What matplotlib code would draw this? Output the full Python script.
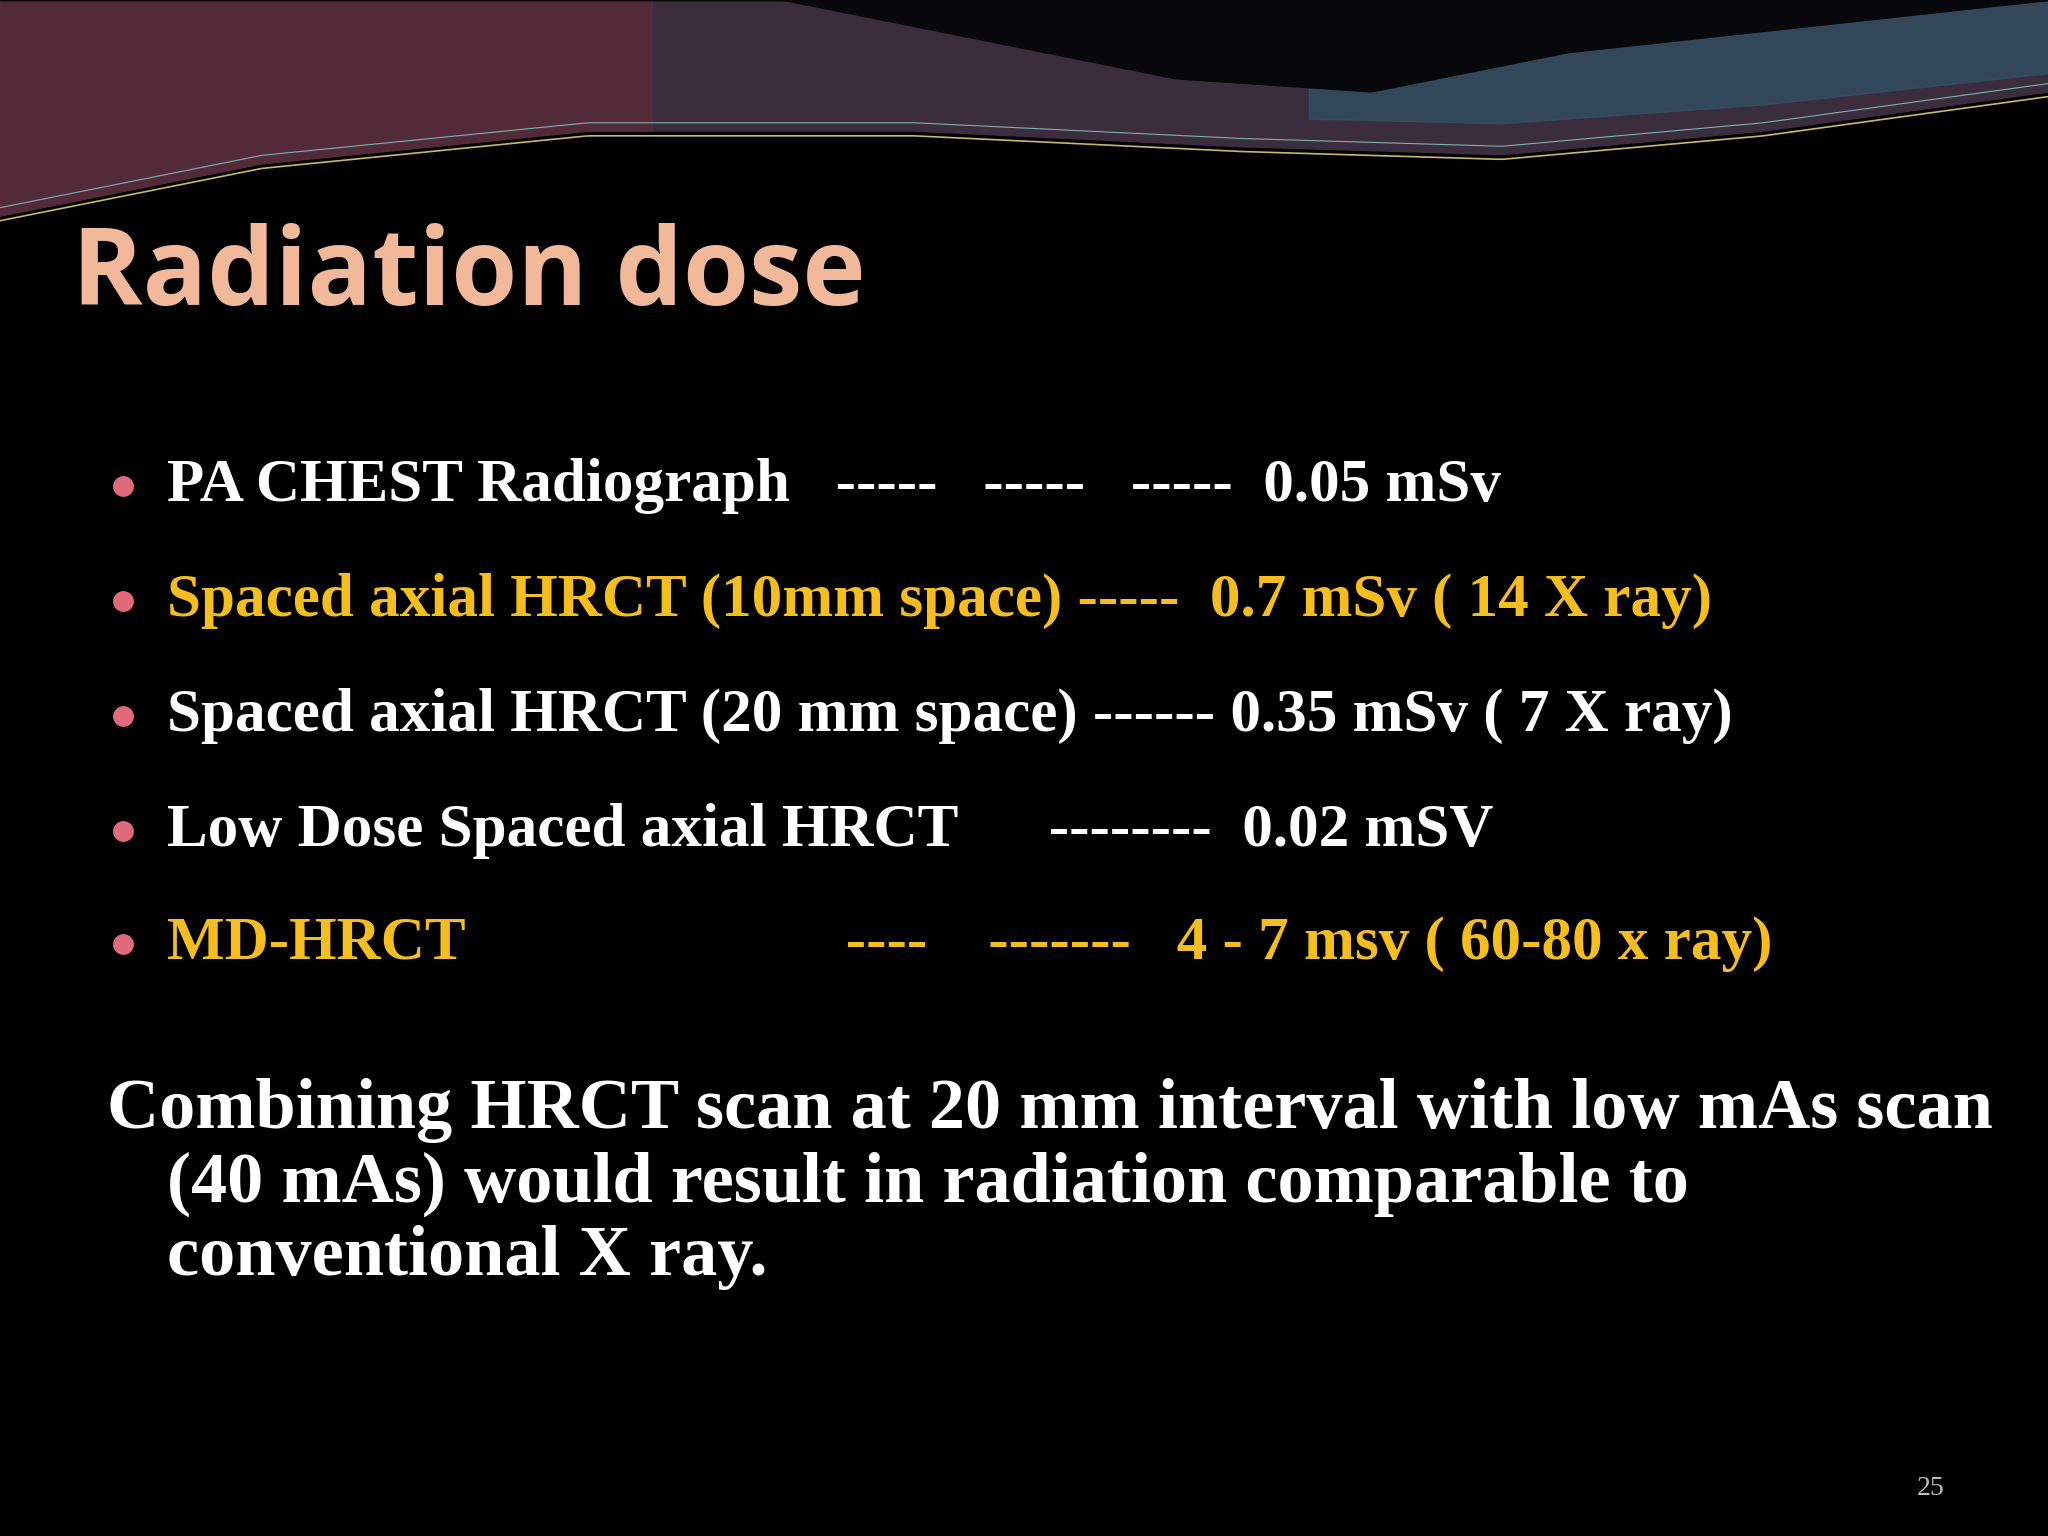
import numpy as np
import matplotlib.pyplot as plt

W, H = 1568, 1176  # reference layout units

title = "Radiation dose"
bullets = [
    ("PA CHEST Radiograph   -----   -----   -----  0.05 mSv", "white"),
    ("Spaced axial HRCT (10mm space) -----  0.7 mSv ( 14 X ray)", "#F5BE1E"),
    ("Spaced axial HRCT (20 mm space) ------ 0.35 mSv ( 7 X ray)", "white"),
    ("Low Dose Spaced axial HRCT      --------  0.02 mSV", "white"),
    ("MD-HRCT                         ----    -------   4 - 7 msv ( 60-80 x ray)", "#F5BE1E"),
]
bullet_y = [372, 460, 548, 636, 723]
para = ["Combining HRCT scan at 20 mm interval with low mAs scan",
        "(40 mAs) would result in radiation comparable to",
        "conventional X ray."]
para_x = [82, 128, 128]
para_y = [850, 907, 963]

wave_x = [0, 200, 450, 700, 950, 1150, 1350, 1568]
wave_y = [165, 125, 100, 100, 112, 118, 100, 70]
dark_x = [0, 600, 750, 900, 1050, 1200, 1568]
dark_y = [0, 0, 30, 60, 70, 40, 0]

fig = plt.figure(figsize=(20.48, 15.36), dpi=100, facecolor="black")
ax = fig.add_axes([0, 0, 1, 1])
ax.set_xlim(0, W)
ax.set_ylim(H, 0)
ax.axis("off")

x = np.linspace(0, W, 400)
band = np.interp(x, wave_x, wave_y)
dark = np.interp(x, dark_x, dark_y)
ax.fill_between(x, 0, band, color="#3b2c3e")
left = x < 500
ax.fill_between(x[left], 0, band[left], color="#5e2a36", alpha=0.7)
right = x > 1000
ax.fill_between(x[right], 0, band[right] * 0.8, color="#2f5566", alpha=0.7)
ax.fill_between(x, 0, dark, color="#08080c")
ax.plot(x, band + 4, color="#c9b86a", lw=1.2)
ax.plot(x, band - 6, color="#7fb0b0", lw=0.8)

ax.text(55, 212, title, color="#F2B89A", fontsize=77, fontweight="bold",
        family="Open Sans", va="center", ha="left")

for (txt, col), y in zip(bullets, bullet_y):
    ax.plot(94, y, "o", color="#E06A7A", ms=14)
    ax.text(128, y, txt, color=col, fontsize=44, fontweight="bold",
            family="Liberation Serif", va="center", ha="left")

for txt, px, y in zip(para, para_x, para_y):
    ax.text(px, y, txt, color="white", fontsize=52, fontweight="bold",
            family="Liberation Serif", va="center", ha="left")

ax.text(1478, 1140, "25", color="#bbbbbb", fontsize=20,
        family="Liberation Serif", va="center", ha="center")

fig.savefig("out.png", dpi=100, facecolor="black")
